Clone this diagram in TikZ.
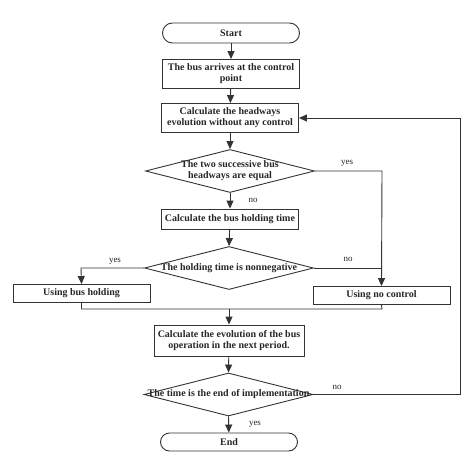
\documentclass[tikz,border=0pt]{standalone}
\usepackage{fontspec}
\setmainfont{Liberation Serif}
\usetikzlibrary{arrows.meta, shapes.geometric, positioning}

\begin{document}
\begin{tikzpicture}
  [
    x=1pt, y=-1pt,
    every node/.style={font=\fontsize{10}{11}\selectfont\bfseries, text=black!85},
    terminal/.style={draw=black!80, line width=0.9pt, rounded corners=10pt, minimum width=137pt, minimum height=20pt},
    process/.style={draw=black!80, line width=0.9pt, minimum width=137pt, minimum height=29pt, align=center, inner sep=1pt},
    small/.style={process, minimum height=18pt},
    decision/.style={draw=black!80, line width=0.9pt, diamond, minimum width=169pt, minimum height=43pt, inner sep=0pt},
    dtext/.style={align=center, inner sep=0pt},
    lbl/.style={font=\fontsize{9}{10}\selectfont},
    line/.style={draw=black!80, line width=0.9pt},
    arrow/.style={line, -{Triangle[length=8pt, width=7pt]}}
  ]
  \useasboundingbox (0,0) rectangle (474,474);

  \node[terminal] (start) at (231,33) {Start};
  \node[process] (arrive) at (231,74) {The bus arrives at the control\\point};
  \node[process] (headway) at (230,118) {Calculate the headways\\evolution without any control};
  \node[decision] (equal) at (230,171) {};
  \node[dtext] at (equal) {The two successive bus\\headways are equal};
  \node[process, minimum height=20pt] (holdtime) at (230,219) {Calculate the bus holding time};
  \node[decision] (nonneg) at (229,268) {};
  \node[dtext] at (nonneg) {The holding time is nonnegative};
  \node[small] (holding) at (81.5,293.5) {Using bus holding};
  \node[small] (nocontrol) at (381.5,295.5) {Using no control};
  \node[process, minimum width=150pt, minimum height=31pt] (evolve) at (229,340.5) {Calculate the evolution of the bus\\operation in the next period.};
  \node[decision] (finish) at (228.5,394.5) {};
  \node[dtext] at (finish) {The time is the end of implementation};
  \node[terminal, rounded corners=9pt, minimum height=18pt] (end) at (229,442) {End};

  \coordinate (eqright) at (382,171);
  \coordinate (nnleft) at (81,268);
  \coordinate (nnright) at (382,268);
  \coordinate (mleft) at (81,309);
  \coordinate (mright) at (382,309);
  \coordinate (merge) at (229,309);
  \coordinate (loopdown) at (460,394.5);
  \coordinate (loopup) at (460,118);

  \draw[arrow] (start) -- (arrive);
  \draw[arrow] (arrive) -- (headway);
  \draw[arrow] (headway) -- (equal.north);
  \draw[arrow] (equal.south) -- (holdtime);
  \draw[arrow] (holdtime) -- (nonneg.north);
  \draw[arrow] (equal.east) -- (eqright) -- (nocontrol.north);
  \draw[line] (nonneg.east) -- (nnright);
  \draw[arrow] (nonneg.west) -- (nnleft) -- (holding.north);
  \draw[line] (holding.south) |- (mleft) -- (mright) -- (nocontrol.south);
  \draw[arrow] (merge) -- (evolve.north);
  \draw[arrow] (evolve) -- (finish.north);
  \draw[arrow] (finish.south) -- (end);
  \draw[arrow] (finish.east) -- (loopdown) -- (loopup) -- (headway.east);

  \node[lbl] at (347,163) {yes};
  \node[lbl] at (253,200) {no};
  \node[lbl] at (115,261) {yes};
  \node[lbl] at (348,259) {no};
  \node[lbl] at (337,387) {no};
  \node[lbl] at (255,424) {yes};
\end{tikzpicture}
\end{document}
